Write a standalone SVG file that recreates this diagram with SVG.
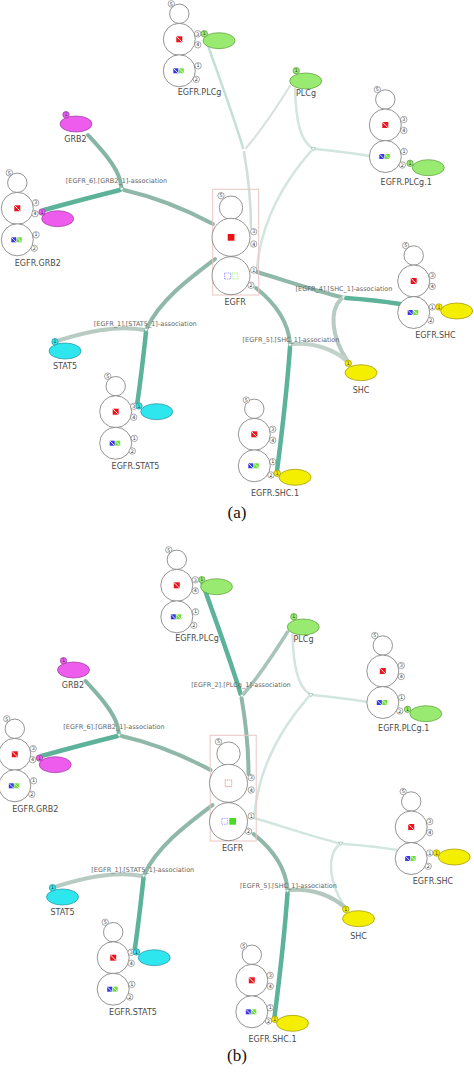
<svg xmlns="http://www.w3.org/2000/svg" xmlns:xlink="http://www.w3.org/1999/xlink" width="474" height="1073" viewBox="0 0 474 1073">
<style>
.c{fill:#fff;stroke:#666;stroke-width:0.7}
.s{fill:#fff;stroke:#555;stroke-width:0.5}
.d{font-family:"DejaVu Sans",sans-serif;font-size:4.8px;fill:#333;text-anchor:middle}
.lbl{font-family:"DejaVu Sans",sans-serif;font-size:8px;fill:#4a4a4a;text-anchor:middle}
.rl{font-family:"DejaVu Sans",sans-serif;font-size:6.5px;fill:#666;text-anchor:middle}
.pan{font-family:"Liberation Serif",serif;font-size:17px;fill:#111;text-anchor:middle}
.e{fill:none;stroke-linecap:round}
.t1{stroke:#5cb399;stroke-width:4.5}
.t2{stroke:#8fb8a9;stroke-width:4}
.t3{stroke:#b8cbc3;stroke-width:4}
.t4{stroke:#d2e6df;stroke-width:2.5}
.t5{stroke:#a8c4ba;stroke-width:3.5}
.pg{fill:#98ea70;stroke:#5c9c3c;stroke-width:0.7}
.pm{fill:#ee5cee;stroke:#9a3a9a;stroke-width:0.7}
.pc{fill:#2ee6ee;stroke:#2a8fa0;stroke-width:0.7}
.py{fill:#f4ee00;stroke:#9c9400;stroke-width:0.7}
.box{fill:none;stroke:#e8c6c4;stroke-width:1}
</style>
<defs>
<g id="gr"><rect x="-3" y="-3" width="6" height="6" fill="#e8141e"/><path d="M-3,-3 L3,3" stroke="#fff" stroke-width="0.9"/></g>
<g id="gbg"><rect x="-6" y="-2.5" width="5" height="5" fill="#3a3ae0"/><path d="M-6,-2.5 L-1,2.5" stroke="#fff" stroke-width="0.8"/><rect x="-0.5" y="-2.5" width="5" height="5" fill="#70e040"/><path d="M-0.5,-2.5 L4.5,2.5" stroke="#fff" stroke-width="0.8"/></g>
<path id="jt" d="M-2.2,-1.6 L2.2,-1.6 L0,1.8Z" fill="#fff" stroke="#7fb3a3" stroke-width="0.6"/>
</defs>
<rect width="474" height="1073" fill="#fff"/>

<!-- ================= PANEL A ================= -->
<g id="panel-a">
<g id="a-connectors">
<!-- PLCg -> EGFR.PLCg (R2) -->
<path class="e" d="M205,37 C220,80 235,120 243,148" stroke="#c3e0d7" stroke-width="2.5"/>
<path class="e" d="M290,86 C278,105 262,130 246,148" stroke="#d6e0dc" stroke-width="2"/>
<path class="e" d="M244,152 C248,175 251,200 251,228" stroke="#d3ddd9" stroke-width="2.5"/>
<!-- PLCg -> EGFR.PLCg.1 (R3) -->
<path class="e t4" d="M295,89 C296,120 300,140 312,148"/>
<path class="e t4" d="M315,149 Q345,152 370,156"/>
<path class="e t4" d="M311,151 C290,175 262,215 257,268"/>
<!-- GRB2 -->
<path class="e" d="M88,135 C100,148 116,165 120,180 L121.5,188" stroke="#85b5a3" stroke-width="4"/>
<path class="e t2" d="M213,224 Q168,200 124,190"/>
<path class="e t1" d="M120,190 Q80,200 44,210"/>
<!-- STAT5 -->
<path class="e t2" d="M215,259 C190,278 160,300 147,328"/>
<path class="e t3" d="M57,341 C85,332 115,325 145,330"/>
<path class="e t1" d="M146,332 C143,360 140,385 137,405"/>
<!-- SHC_4 -->
<path class="e t2" d="M257,272 C290,282 320,292 341,297"/>
<path class="e t1" d="M346,298 Q375,300 400,304" stroke-width="5"/>
<path class="e t3" d="M341,299 C330,310 330,335 348,362"/>
<!-- SHC_5 -->
<path class="e t2" d="M256,288 C275,303 288,322 290,343"/>
<path class="e" d="M292,344 C315,342 335,350 348,362" stroke="#c2d2cb" stroke-width="4"/>
<path class="e t1" d="M290,347 C287,390 281,440 277,471"/>
<use href="#jt" x="121.7" y="189.3"/>
<use href="#jt" x="146" y="330"/>
<use href="#jt" x="343.3" y="297.7"/>
<use href="#jt" x="290" y="345"/>
<use href="#jt" x="313.3" y="149.3"/>
<text class="rl" x="116.5" y="183.3">[EGFR_6].[GRB2_1]-association</text>
<text class="rl" x="145.3" y="325.5">[EGFR_1].[STAT5_1]-association</text>
<text class="rl" x="344" y="291.3">[EGFR_4].[SHC_1]-association</text>
<text class="rl" x="291" y="341.5">[EGFR_5].[SHC_1]-association</text>
</g>

<g id="a-EGFR.PLCg" transform="translate(179.3,39.3)">
<circle class="c" cy="-25.5" r="9.7"/><circle class="c" r="16"/><circle class="c" cy="31.5" r="16"/>
<use href="#gr"/><use href="#gbg" y="31.5"/>
<circle class="s" cx="-8" cy="-35.5" r="3.2"/><text class="d" x="-8" y="-33.8">5</text>
<circle class="s" cx="18.5" cy="-5.5" r="3.2"/><text class="d" x="18.5" y="-3.8">3</text>
<circle class="s" cx="18.5" cy="5.5" r="3.2"/><text class="d" x="18.5" y="7.2">4</text>
<circle class="s" cx="18.8" cy="26.5" r="3.2"/><text class="d" x="18.8" y="28.2">1</text>
<circle class="s" cx="17" cy="40" r="3.2"/><text class="d" x="17" y="41.7">2</text>
<ellipse class="pg" cx="39.7" cy="1.4" rx="16" ry="8"/>
<circle class="pg" cx="25" cy="-5.6" r="3.2"/><text class="d" x="25" y="-3.9">1</text>
<text class="lbl" x="20.2" y="55.7">EGFR.PLCg</text>
</g>

<g id="a-PLCg">
<ellipse class="pg" cx="305.7" cy="81" rx="16" ry="8"/>
<circle class="pg" cx="296.3" cy="70.7" r="3.2"/><text class="d" x="296.3" y="72.4">1</text>
<text class="lbl" x="306" y="96">PLCg</text>
</g>

<g id="a-EGFR.PLCg.1" transform="translate(385.3,125)">
<circle class="c" cy="-25.5" r="9.7"/><circle class="c" r="16"/><circle class="c" cy="31.5" r="16"/>
<use href="#gr"/><use href="#gbg" y="31.5"/>
<circle class="s" cx="-8" cy="-35.5" r="3.2"/><text class="d" x="-8" y="-33.8">5</text>
<circle class="s" cx="18.5" cy="-5.5" r="3.2"/><text class="d" x="18.5" y="-3.8">3</text>
<circle class="s" cx="18.5" cy="5.5" r="3.2"/><text class="d" x="18.5" y="7.2">4</text>
<circle class="s" cx="18.8" cy="26.5" r="3.2"/><text class="d" x="18.8" y="28.2">1</text>
<circle class="s" cx="17" cy="40" r="3.2"/><text class="d" x="17" y="41.7">2</text>
<ellipse class="pg" cx="43" cy="42.7" rx="16" ry="8"/>
<circle class="pg" cx="24.7" cy="38.3" r="3.2"/><text class="d" x="24.7" y="40">1</text>
<text class="lbl" x="20.9" y="60">EGFR.PLCg.1</text>
</g>

<g id="a-GRB2">
<ellipse class="pm" cx="76" cy="124" rx="16" ry="8"/>
<circle class="pm" cx="66" cy="114.7" r="3.2"/><text class="d" x="66" y="116.4">1</text>
<text class="lbl" x="75.5" y="142.3">GRB2</text>
</g>

<g id="a-EGFR.GRB2" transform="translate(17.3,208.3)">
<circle class="c" cy="-25.5" r="9.7"/><circle class="c" r="16"/><circle class="c" cy="31.5" r="16"/>
<use href="#gr"/><use href="#gbg" y="31.5"/>
<circle class="s" cx="-8" cy="-35.5" r="3.2"/><text class="d" x="-8" y="-33.8">5</text>
<circle class="s" cx="18.4" cy="-5.6" r="3.2"/><text class="d" x="18.4" y="-3.9">3</text>
<circle class="s" cx="17.7" cy="5.4" r="3.2"/><text class="d" x="17.7" y="7.1">4</text>
<circle class="s" cx="18.8" cy="26.5" r="3.2"/><text class="d" x="18.8" y="28.2">1</text>
<circle class="s" cx="17" cy="40" r="3.2"/><text class="d" x="17" y="41.7">2</text>
<ellipse class="pm" cx="40.4" cy="10.4" rx="16" ry="8"/>
<circle class="pm" cx="24.7" cy="3.7" r="3.2"/><text class="d" x="24.7" y="5.4">1</text>
<text class="lbl" x="20.5" y="57.4">EGFR.GRB2</text>
</g>

<g id="a-EGFR">
<rect class="box" x="212.7" y="189.3" width="46" height="105.7"/>
<circle class="c" cx="231" cy="207.7" r="11.7"/>
<circle class="c" cx="231" cy="237.3" r="19"/>
<circle class="c" cx="231" cy="275.7" r="19"/>
<rect x="227.7" y="234" width="6.7" height="6.7" fill="#ee1111"/>
<rect x="224.5" y="273" width="6" height="6" fill="none" stroke="#5555ee" stroke-width="0.6" stroke-dasharray="1,0.8"/>
<rect x="232" y="273" width="6" height="6" fill="none" stroke="#66dd44" stroke-width="0.6" stroke-dasharray="1,0.8"/>
<circle class="s" cx="221" cy="195.7" r="3.2"/><text class="d" x="221" y="197.4">5</text>
<circle class="s" cx="253.7" cy="231.7" r="3.2"/><text class="d" x="253.7" y="233.4">3</text>
<circle class="s" cx="253.7" cy="244" r="3.2"/><text class="d" x="253.7" y="245.7">4</text>
<circle class="s" cx="253.7" cy="270" r="3.2"/><text class="d" x="253.7" y="271.7">1</text>
<circle class="s" cx="251" cy="285.3" r="3.2"/><text class="d" x="251" y="287">2</text>
<text class="lbl" x="235.2" y="305">EGFR</text>
</g>

<g id="a-EGFR.SHC" transform="translate(413.7,281)">
<circle class="c" cy="-25.5" r="9.7"/><circle class="c" r="16"/><circle class="c" cy="31.5" r="16"/>
<use href="#gr"/><use href="#gbg" y="31.5"/>
<circle class="s" cx="-8" cy="-35.5" r="3.2"/><text class="d" x="-8" y="-33.8">5</text>
<circle class="s" cx="18.5" cy="-5.5" r="3.2"/><text class="d" x="18.5" y="-3.8">3</text>
<circle class="s" cx="18.5" cy="5.5" r="3.2"/><text class="d" x="18.5" y="7.2">4</text>
<circle class="s" cx="18.6" cy="26" r="3.2"/><text class="d" x="18.6" y="27.7">1</text>
<circle class="s" cx="17" cy="39.3" r="3.2"/><text class="d" x="17" y="41">2</text>
<ellipse class="py" cx="43" cy="30" rx="16" ry="8"/>
<circle class="py" cx="25.3" cy="26" r="3.2"/><text class="d" x="25.3" y="27.7">1</text>
<text class="lbl" x="21.8" y="57.3">EGFR.SHC</text>
</g>

<g id="a-SHC">
<ellipse class="py" cx="361" cy="372.7" rx="16" ry="8"/>
<circle class="py" cx="348.3" cy="363.3" r="3.2"/><text class="d" x="348.3" y="365">1</text>
<text class="lbl" x="361" y="393">SHC</text>
</g>

<g id="a-STAT5">
<ellipse class="pc" cx="65" cy="351" rx="16" ry="8"/>
<circle class="pc" cx="55" cy="341.7" r="3.2"/><text class="d" x="55" y="343.4">1</text>
<text class="lbl" x="65" y="369.3">STAT5</text>
</g>

<g id="a-EGFR.STAT5" transform="translate(115.7,411.7)">
<circle class="c" cy="-25.5" r="9.7"/><circle class="c" r="16"/><circle class="c" cy="31.5" r="16"/>
<use href="#gr"/><use href="#gbg" y="31.5"/>
<circle class="s" cx="-8" cy="-35.5" r="3.2"/><text class="d" x="-8" y="-33.8">5</text>
<circle class="s" cx="18" cy="-5.4" r="3.2"/><text class="d" x="18" y="-3.7">3</text>
<circle class="s" cx="18" cy="5.6" r="3.2"/><text class="d" x="18" y="7.3">4</text>
<circle class="s" cx="18.6" cy="26.6" r="3.2"/><text class="d" x="18.6" y="28.3">1</text>
<circle class="s" cx="16.6" cy="39.3" r="3.2"/><text class="d" x="16.6" y="41">2</text>
<ellipse class="pc" cx="41" cy="0" rx="16" ry="8"/>
<circle class="pc" cx="23.3" cy="-5.7" r="3.2"/><text class="d" x="23.3" y="-4">1</text>
<text class="lbl" x="19.8" y="57.3">EGFR.STAT5</text>
</g>

<g id="a-EGFR.SHC.1" transform="translate(254.3,434.3)">
<circle class="c" cy="-25.5" r="9.7"/><circle class="c" r="16"/><circle class="c" cy="31.5" r="16"/>
<use href="#gr"/><use href="#gbg" y="31.5"/>
<circle class="s" cx="-8" cy="-34.3" r="3.2"/><text class="d" x="-8" y="-32.6">5</text>
<circle class="s" cx="18.4" cy="-5" r="3.2"/><text class="d" x="18.4" y="-3.3">3</text>
<circle class="s" cx="18.4" cy="6" r="3.2"/><text class="d" x="18.4" y="7.7">4</text>
<circle class="s" cx="18.4" cy="27.4" r="3.2"/><text class="d" x="18.4" y="29.1">1</text>
<circle class="s" cx="16.7" cy="40.7" r="3.2"/><text class="d" x="16.7" y="42.4">2</text>
<ellipse class="py" cx="40.7" cy="43" rx="16" ry="8"/>
<circle class="py" cx="23" cy="39" r="3.2"/><text class="d" x="23" y="40.7">1</text>
<text class="lbl" x="20.7" y="61.7">EGFR.SHC.1</text>
</g>
</g>
<text class="pan" x="237" y="518">(a)</text>

<!-- ================= PANEL B ================= -->
<g id="panel-b" transform="translate(-2.5,546)">
<g id="b-connectors">
<!-- R2 -->
<path class="e t1" d="M205,37 C220,80 235,120 243,148" stroke-width="4"/>
<path class="e t5" d="M290,86 C278,105 262,130 246,148"/>
<path class="e t2" d="M244,152 C248,175 251,200 251,228"/>
<!-- R3 -->
<path class="e t4" d="M295,89 C296,120 300,140 312,148"/>
<path class="e t4" d="M315,149 Q345,152 370,156"/>
<path class="e t4" d="M311,151 C290,175 262,215 257,268"/>
<!-- GRB2 -->
<path class="e" d="M88,135 C100,148 116,165 120,180 L121.5,188" stroke="#85b5a3" stroke-width="4"/>
<path class="e t2" d="M213,224 Q168,200 124,190"/>
<path class="e t1" d="M120,190 Q80,200 44,210"/>
<!-- STAT5 -->
<path class="e t2" d="M215,259 C190,278 160,300 147,328"/>
<path class="e t3" d="M57,341 C85,332 115,325 145,330"/>
<path class="e t1" d="M146,332 C143,360 140,385 137,405"/>
<!-- SHC_4 (inactive) -->
<path class="e t4" d="M257,272 C290,282 320,292 341,297"/>
<path class="e t4" d="M346,298 Q375,300 400,304"/>
<path class="e t4" d="M341,299 C330,310 330,335 348,362"/>
<!-- SHC_5 -->
<path class="e t2" d="M256,288 C275,303 288,322 290,343"/>
<path class="e" d="M292,344 C315,342 335,350 348,362" stroke="#b2c8be" stroke-width="4"/>
<path class="e t1" d="M290,347 C287,390 281,440 277,471"/>
<use href="#jt" x="244.5" y="150"/>
<use href="#jt" x="121.7" y="189.3"/>
<use href="#jt" x="146" y="330"/>
<use href="#jt" x="343.3" y="297.7"/>
<use href="#jt" x="290" y="345"/>
<use href="#jt" x="313.3" y="149.3"/>
<text class="rl" x="243.5" y="141.3">[EGFR_2].[PLCg_1]-association</text>
<text class="rl" x="116.5" y="183.3">[EGFR_6].[GRB2_1]-association</text>
<text class="rl" x="145.3" y="325.5">[EGFR_1].[STAT5_1]-association</text>
<text class="rl" x="291" y="341.5">[EGFR_5].[SHC_1]-association</text>
</g>

<g id="b-EGFR.PLCg" transform="translate(179.3,39.3)">
<circle class="c" cy="-25.5" r="9.7"/><circle class="c" r="16"/><circle class="c" cy="31.5" r="16"/>
<use href="#gr"/><use href="#gbg" y="31.5"/>
<circle class="s" cx="-8" cy="-35.5" r="3.2"/><text class="d" x="-8" y="-33.8">5</text>
<circle class="s" cx="18.5" cy="-5.5" r="3.2"/><text class="d" x="18.5" y="-3.8">3</text>
<circle class="s" cx="18.5" cy="5.5" r="3.2"/><text class="d" x="18.5" y="7.2">4</text>
<circle class="s" cx="18.8" cy="26.5" r="3.2"/><text class="d" x="18.8" y="28.2">1</text>
<circle class="s" cx="17" cy="40" r="3.2"/><text class="d" x="17" y="41.7">2</text>
<ellipse class="pg" cx="39.7" cy="1.4" rx="16" ry="8"/>
<circle class="pg" cx="25" cy="-5.6" r="3.2"/><text class="d" x="25" y="-3.9">1</text>
<text class="lbl" x="20.2" y="55.7">EGFR.PLCg</text>
</g>

<g id="b-PLCg">
<ellipse class="pg" cx="305.7" cy="81" rx="16" ry="8"/>
<circle class="pg" cx="296.3" cy="70.7" r="3.2"/><text class="d" x="296.3" y="72.4">1</text>
<text class="lbl" x="306" y="96">PLCg</text>
</g>

<g id="b-EGFR.PLCg.1" transform="translate(385.3,125)">
<circle class="c" cy="-25.5" r="9.7"/><circle class="c" r="16"/><circle class="c" cy="31.5" r="16"/>
<use href="#gr"/><use href="#gbg" y="31.5"/>
<circle class="s" cx="-8" cy="-35.5" r="3.2"/><text class="d" x="-8" y="-33.8">5</text>
<circle class="s" cx="18.5" cy="-5.5" r="3.2"/><text class="d" x="18.5" y="-3.8">3</text>
<circle class="s" cx="18.5" cy="5.5" r="3.2"/><text class="d" x="18.5" y="7.2">4</text>
<circle class="s" cx="18.8" cy="26.5" r="3.2"/><text class="d" x="18.8" y="28.2">1</text>
<circle class="s" cx="17" cy="40" r="3.2"/><text class="d" x="17" y="41.7">2</text>
<ellipse class="pg" cx="43" cy="42.7" rx="16" ry="8"/>
<circle class="pg" cx="24.7" cy="38.3" r="3.2"/><text class="d" x="24.7" y="40">1</text>
<text class="lbl" x="20.9" y="60">EGFR.PLCg.1</text>
</g>

<g id="b-GRB2">
<ellipse class="pm" cx="76" cy="124" rx="16" ry="8"/>
<circle class="pm" cx="66" cy="114.7" r="3.2"/><text class="d" x="66" y="116.4">1</text>
<text class="lbl" x="75.5" y="142.3">GRB2</text>
</g>

<g id="b-EGFR.GRB2" transform="translate(17.3,208.3)">
<circle class="c" cy="-25.5" r="9.7"/><circle class="c" r="16"/><circle class="c" cy="31.5" r="16"/>
<use href="#gr"/><use href="#gbg" y="31.5"/>
<circle class="s" cx="-8" cy="-35.5" r="3.2"/><text class="d" x="-8" y="-33.8">5</text>
<circle class="s" cx="18.4" cy="-5.6" r="3.2"/><text class="d" x="18.4" y="-3.9">3</text>
<circle class="s" cx="17.7" cy="5.4" r="3.2"/><text class="d" x="17.7" y="7.1">4</text>
<circle class="s" cx="18.8" cy="26.5" r="3.2"/><text class="d" x="18.8" y="28.2">1</text>
<circle class="s" cx="17" cy="40" r="3.2"/><text class="d" x="17" y="41.7">2</text>
<ellipse class="pm" cx="40.4" cy="10.4" rx="16" ry="8"/>
<circle class="pm" cx="24.7" cy="3.7" r="3.2"/><text class="d" x="24.7" y="5.4">1</text>
<text class="lbl" x="20.5" y="57.4">EGFR.GRB2</text>
</g>

<g id="b-EGFR">
<rect class="box" x="212.7" y="189.3" width="46" height="105.7"/>
<circle class="c" cx="231" cy="207.7" r="11.7"/>
<circle class="c" cx="231" cy="237.3" r="19"/>
<circle class="c" cx="231" cy="275.7" r="19"/>
<rect x="227.7" y="234" width="6.5" height="6.5" fill="none" stroke="#ee3333" stroke-width="0.6" stroke-dasharray="1,0.8"/>
<rect x="224.3" y="272.4" width="5.8" height="5.8" fill="none" stroke="#5555ee" stroke-width="0.6" stroke-dasharray="1,0.8"/>
<rect x="231.8" y="272" width="6.7" height="6.7" fill="#44dd22"/>
<circle class="s" cx="221" cy="195.7" r="3.2"/><text class="d" x="221" y="197.4">5</text>
<circle class="s" cx="253.7" cy="231.7" r="3.2"/><text class="d" x="253.7" y="233.4">3</text>
<circle class="s" cx="253.7" cy="244" r="3.2"/><text class="d" x="253.7" y="245.7">4</text>
<circle class="s" cx="253.7" cy="270" r="3.2"/><text class="d" x="253.7" y="271.7">1</text>
<circle class="s" cx="251" cy="285.3" r="3.2"/><text class="d" x="251" y="287">2</text>
<text class="lbl" x="235.2" y="305">EGFR</text>
</g>

<g id="b-EGFR.SHC" transform="translate(413.7,281)">
<circle class="c" cy="-25.5" r="9.7"/><circle class="c" r="16"/><circle class="c" cy="31.5" r="16"/>
<use href="#gr"/><use href="#gbg" y="31.5"/>
<circle class="s" cx="-8" cy="-35.5" r="3.2"/><text class="d" x="-8" y="-33.8">5</text>
<circle class="s" cx="18.5" cy="-5.5" r="3.2"/><text class="d" x="18.5" y="-3.8">3</text>
<circle class="s" cx="18.5" cy="5.5" r="3.2"/><text class="d" x="18.5" y="7.2">4</text>
<circle class="s" cx="18.6" cy="26" r="3.2"/><text class="d" x="18.6" y="27.7">1</text>
<circle class="s" cx="17" cy="39.3" r="3.2"/><text class="d" x="17" y="41">2</text>
<ellipse class="py" cx="43" cy="30" rx="16" ry="8"/>
<circle class="py" cx="25.3" cy="26" r="3.2"/><text class="d" x="25.3" y="27.7">1</text>
<text class="lbl" x="21.8" y="57.3">EGFR.SHC</text>
</g>

<g id="b-SHC">
<ellipse class="py" cx="361" cy="372.7" rx="16" ry="8"/>
<circle class="py" cx="348.3" cy="363.3" r="3.2"/><text class="d" x="348.3" y="365">1</text>
<text class="lbl" x="361" y="393">SHC</text>
</g>

<g id="b-STAT5">
<ellipse class="pc" cx="65" cy="351" rx="16" ry="8"/>
<circle class="pc" cx="55" cy="341.7" r="3.2"/><text class="d" x="55" y="343.4">1</text>
<text class="lbl" x="65" y="369.3">STAT5</text>
</g>

<g id="b-EGFR.STAT5" transform="translate(115.7,411.7)">
<circle class="c" cy="-25.5" r="9.7"/><circle class="c" r="16"/><circle class="c" cy="31.5" r="16"/>
<use href="#gr"/><use href="#gbg" y="31.5"/>
<circle class="s" cx="-8" cy="-35.5" r="3.2"/><text class="d" x="-8" y="-33.8">5</text>
<circle class="s" cx="18" cy="-5.4" r="3.2"/><text class="d" x="18" y="-3.7">3</text>
<circle class="s" cx="18" cy="5.6" r="3.2"/><text class="d" x="18" y="7.3">4</text>
<circle class="s" cx="18.6" cy="26.6" r="3.2"/><text class="d" x="18.6" y="28.3">1</text>
<circle class="s" cx="16.6" cy="39.3" r="3.2"/><text class="d" x="16.6" y="41">2</text>
<ellipse class="pc" cx="41" cy="0" rx="16" ry="8"/>
<circle class="pc" cx="23.3" cy="-5.7" r="3.2"/><text class="d" x="23.3" y="-4">1</text>
<text class="lbl" x="19.8" y="57.3">EGFR.STAT5</text>
</g>

<g id="b-EGFR.SHC.1" transform="translate(254.3,434.3)">
<circle class="c" cy="-25.5" r="9.7"/><circle class="c" r="16"/><circle class="c" cy="31.5" r="16"/>
<use href="#gr"/><use href="#gbg" y="31.5"/>
<circle class="s" cx="-8" cy="-34.3" r="3.2"/><text class="d" x="-8" y="-32.6">5</text>
<circle class="s" cx="18.4" cy="-5" r="3.2"/><text class="d" x="18.4" y="-3.3">3</text>
<circle class="s" cx="18.4" cy="6" r="3.2"/><text class="d" x="18.4" y="7.7">4</text>
<circle class="s" cx="18.4" cy="27.4" r="3.2"/><text class="d" x="18.4" y="29.1">1</text>
<circle class="s" cx="16.7" cy="40.7" r="3.2"/><text class="d" x="16.7" y="42.4">2</text>
<ellipse class="py" cx="40.7" cy="43" rx="16" ry="8"/>
<circle class="py" cx="23" cy="39" r="3.2"/><text class="d" x="23" y="40.7">1</text>
<text class="lbl" x="20.7" y="61.7">EGFR.SHC.1</text>
</g>
</g>
<text class="pan" x="237" y="1061">(b)</text>
</svg>
